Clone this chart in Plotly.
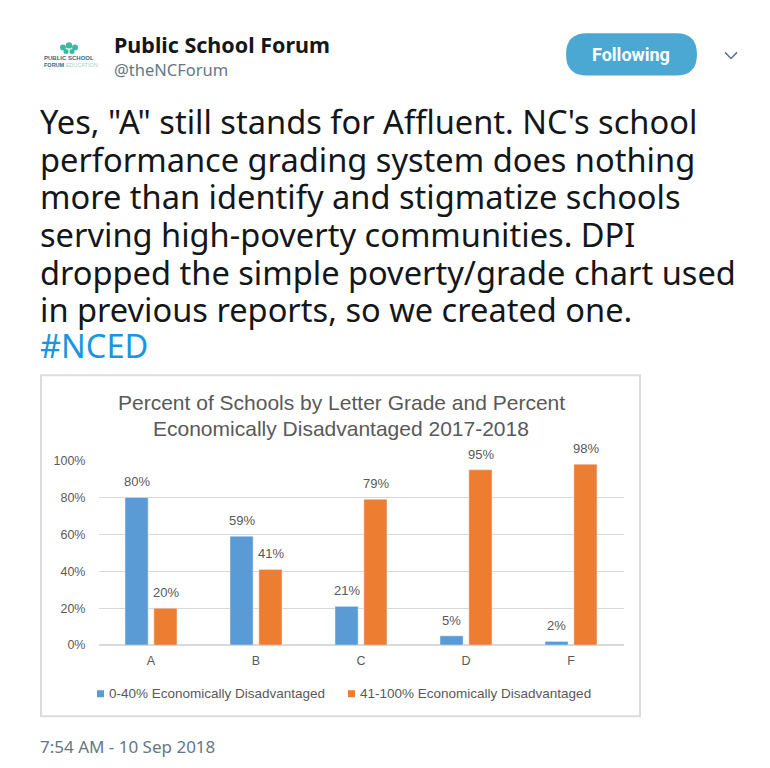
import plotly.graph_objects as go

W, H = 770, 768

# ---- data ----
grades = ["A", "B", "C", "D", "F"]
low_poverty = [80, 59, 21, 5, 2]      # 0-40% Economically Disadvantaged
high_poverty = [20, 41, 79, 95, 98]   # 41-100% Economically Disadvantaged
series_names = ["0-40% Economically Disadvantaged", "41-100% Economically Disadvantaged"]
y_ticks = [0, 20, 40, 60, 80, 100]
y_tick_labels = ["0%", "20%", "40%", "60%", "80%", "100%"]

tweet_lines = [
    "Yes, \"A\" still stands for Affluent. NC's school",
    "performance grading system does nothing",
    "more than identify and stigmatize schools",
    "serving high-poverty communities. DPI",
    "dropped the simple poverty/grade chart used",
    "in previous reports, so we created one.",
]
hashtag = "#NCED"
chart_title = ["Percent of Schools by Letter Grade and Percent",
               "Economically Disadvantaged 2017-2018"]

# observed vertical mapping of the rendered page (offset / scale)
Y_OFF, Y_SCALE = 7.7, 0.979


def px(x):
    return x / W


def py(y):
    return 1 - ((y - Y_OFF) / Y_SCALE) / H


BLUE = "#5b9bd5"
ORANGE = "#ed7d31"
GRAY = "#595959"
CH_FONT = "Liberation Sans, sans-serif"
TXT_FONT = "Noto Sans, Open Sans, sans-serif"

fig = go.Figure()
fig.add_trace(go.Bar(x=grades, y=low_poverty, name=series_names[0], marker_color=BLUE,
                     showlegend=False))
fig.add_trace(go.Bar(x=grades, y=high_poverty, name=series_names[1], marker_color=ORANGE,
                     showlegend=False))

annotations = []
# bar value labels (data coordinates)
for vals, shift in [(low_poverty, -14.5), (high_poverty, 14.5)]:
    for g, v in zip(grades, vals):
        annotations.append(dict(x=g, y=v, xref="x", yref="y", text=f"{v}%",
                                xshift=shift, yshift=6, showarrow=False,
                                xanchor="center", yanchor="bottom",
                                font=dict(family=CH_FONT, size=13, color=GRAY)))
# tweet text
line_y = [122, 160, 197, 235, 272, 309]
for t, y in zip(tweet_lines, line_y):
    annotations.append(dict(x=px(38), y=py(y), xref="paper", yref="paper", text=t,
                            showarrow=False, xanchor="left", yanchor="middle",
                            font=dict(family=TXT_FONT, size=32.6, color="#14171a")))
annotations.append(dict(x=px(38), y=py(345), xref="paper", yref="paper", text=hashtag,
                        showarrow=False, xanchor="left", yanchor="middle",
                        font=dict(family=TXT_FONT, size=32.6, color="#1b95e0")))
# header
annotations.append(dict(x=px(112), y=py(45), xref="paper", yref="paper",
                        text="<b>Public School Forum</b>", showarrow=False,
                        xanchor="left", yanchor="middle",
                        font=dict(family=TXT_FONT, size=21.5, color="#14171a")))
annotations.append(dict(x=px(112), y=py(70), xref="paper", yref="paper",
                        text="@theNCForum", showarrow=False,
                        xanchor="left", yanchor="middle",
                        font=dict(family=TXT_FONT, size=16.5, color="#657786")))
annotations.append(dict(x=px(631), y=py(55), xref="paper", yref="paper",
                        text="<b>Following</b>", showarrow=False,
                        xanchor="center", yanchor="middle",
                        font=dict(family="Roboto, sans-serif", size=18, color="white")))
# logo text
annotations.append(dict(x=px(42), y=py(59), xref="paper", yref="paper",
                        text="<b>PUBLIC SCHOOL</b>", showarrow=False,
                        xanchor="left", yanchor="middle",
                        font=dict(family="Liberation Sans", size=6, color="#2f6c84")))
annotations.append(dict(x=px(42), y=py(65.5), xref="paper", yref="paper",
                        text="<b>FORUM</b> <span style='color:#9fd3c7'>EDUCATION</span>",
                        showarrow=False, xanchor="left", yanchor="middle",
                        font=dict(family="Liberation Sans", size=5.5, color="#2f6c84")))
# timestamp
annotations.append(dict(x=px(38), y=py(745), xref="paper", yref="paper",
                        text="7:54 AM - 10 Sep 2018", showarrow=False,
                        xanchor="left", yanchor="middle",
                        font=dict(family=TXT_FONT, size=17, color="#657786")))
# chart title
for t, y in zip(chart_title, [402, 428]):
    annotations.append(dict(x=px(341), y=py(y), xref="paper", yref="paper", text=t,
                            showarrow=False, xanchor="center", yanchor="middle",
                            font=dict(family=CH_FONT, size=21, color=GRAY)))

shapes = []
# chart legend (manual, drawn from series names/colours)
legend_items = [(series_names[0], BLUE, 97), (series_names[1], ORANGE, 348)]
for name, col, lx in legend_items:
    shapes.append(dict(type="rect", xref="paper", yref="paper",
                       x0=px(lx), x1=px(lx + 7), y0=py(696), y1=py(689),
                       fillcolor=col, line=dict(width=0)))
    annotations.append(dict(x=px(lx + 10), y=py(692.5), xref="paper", yref="paper",
                            text=name, showarrow=False, xanchor="left", yanchor="middle",
                            font=dict(family=CH_FONT, size=13.5, color=GRAY)))
# chart frame
shapes.append(dict(type="rect", xref="paper", yref="paper",
                   x0=px(41), x1=px(640), y0=py(375), y1=py(715),
                   line=dict(color="#dcdcdc", width=2), fillcolor="rgba(0,0,0,0)"))
# following pill
x0, x1, y0, y1 = 566, 697, 34, 76
r = (y1 - y0) / 2
path = (f"M {px(x0 + r)},{py(y0)} L {px(x1 - r)},{py(y0)} "
        f"Q {px(x1)},{py(y0)} {px(x1)},{py(y0 + r)} Q {px(x1)},{py(y1)} {px(x1 - r)},{py(y1)} "
        f"L {px(x0 + r)},{py(y1)} Q {px(x0)},{py(y1)} {px(x0)},{py(y0 + r)} "
        f"Q {px(x0)},{py(y0)} {px(x0 + r)},{py(y0)} Z")
shapes.append(dict(type="path", xref="paper", yref="paper", path=path,
                   fillcolor="#4aa8d3", line=dict(width=0)))
# chevron
shapes.append(dict(type="path", xref="paper", yref="paper",
                   path=f"M {px(725)},{py(53)} L {px(731)},{py(59)} L {px(737)},{py(53)}",
                   line=dict(color="#657786", width=1.6)))
# logo figures
for cx, cy, rr, col in [(63, 48, 3, "#3fb8a0"), (69, 46, 3.2, "#3fb8a0"), (75, 48, 3, "#3fb8a0"),
                        (66, 52, 2.5, "#3fb8a0"), (72, 52, 2.5, "#3fb8a0")]:
    shapes.append(dict(type="circle", xref="paper", yref="paper",
                       x0=px(cx - rr), x1=px(cx + rr), y0=py(cy - rr), y1=py(cy + rr),
                       fillcolor=col, line=dict(width=0)))

fig.update_layout(
    width=W, height=H, margin=dict(l=0, r=0, t=0, b=0),
    paper_bgcolor="white", plot_bgcolor="white",
    barmode="group", bargap=0.45, bargroupgap=0.2,
    showlegend=False,
    xaxis=dict(domain=[px(98.5), px(623.5)], showgrid=False, showline=False,
               ticks="", ticklabelstandoff=6,
               tickfont=dict(family=CH_FONT, size=12.5, color=GRAY),
               fixedrange=True),
    yaxis=dict(domain=[py(644), py(460)], range=[0, 100], tickvals=y_ticks,
               ticktext=y_tick_labels, showgrid=True, gridcolor="#d9d9d9", zeroline=True,
               zerolinecolor="#d9d9d9", showline=False, ticks="", ticklabelstandoff=12,
               tickfont=dict(family=CH_FONT, size=12.5, color=GRAY)),
    annotations=annotations, shapes=shapes,
)

fig.write_html(
    "out.html",
    config={"displayModeBar": False},
    post_script=("document.body.style.margin='0';"
                 "var d=document.getElementById('{plot_id}');"
                 "d.style.position='fixed';d.style.top='0';d.style.left='0';"),
)
